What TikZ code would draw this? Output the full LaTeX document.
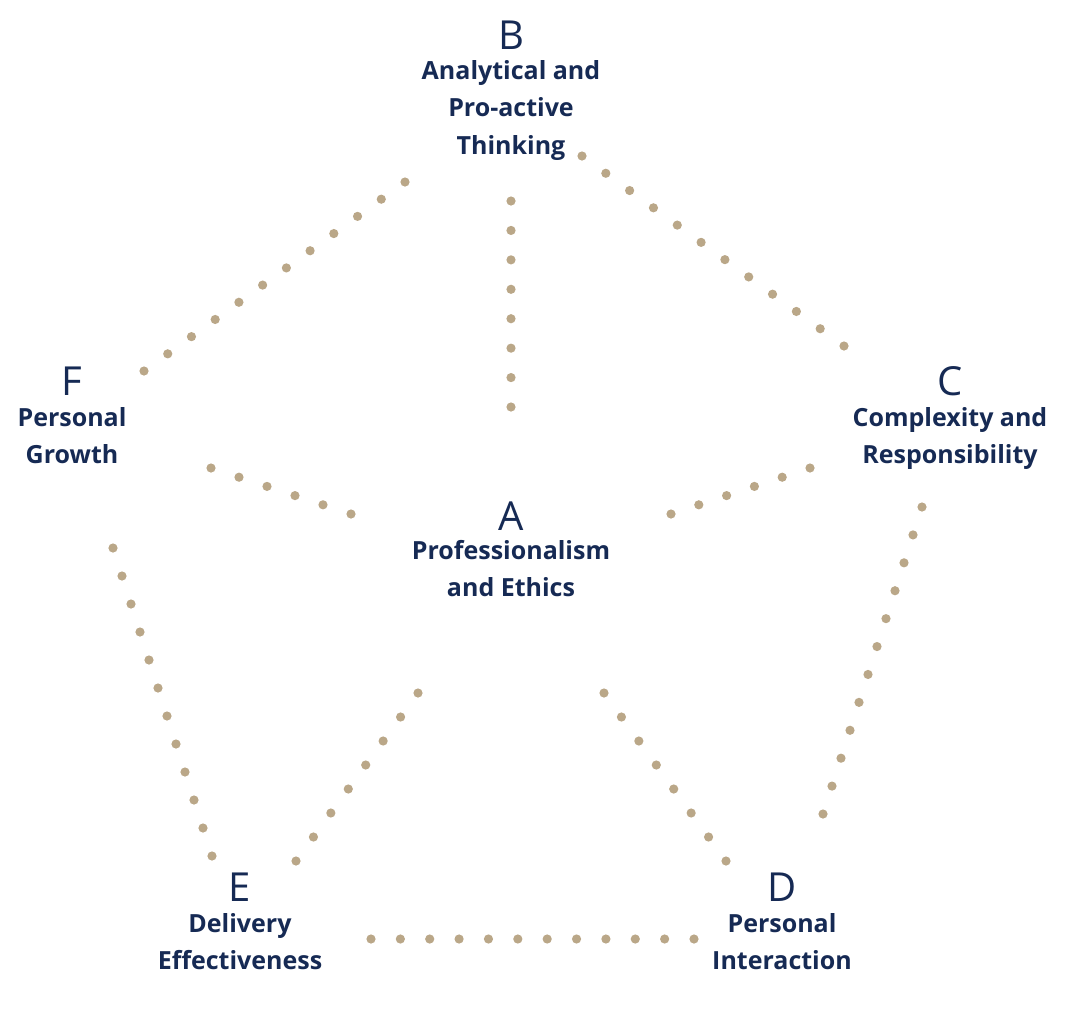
\documentclass[tikz,border=0pt]{standalone}
\usepackage{fontspec}
\setmainfont{Open Sans}
\usetikzlibrary{calc}
\definecolor{navy}{RGB}{22,42,84}
\definecolor{tan}{RGB}{186,167,136}
\begin{document}
\begin{tikzpicture}[x=1pt,y=-1pt,
  letter/.style={text=navy,font=\fontsize{40}{40}\selectfont,inner sep=0pt},
  lbl/.style={text=navy,font=\bfseries\fontsize{25}{37.5}\selectfont,align=center,inner sep=0pt,anchor=north},
  dotty/.style={fill=tan}]
\useasboundingbox (0,0) rectangle (1065,1013);
\newcommand{\dotline}[3]{\foreach \i in {0,...,#3}{\fill[dotty] ($(#1)!\i/#3!(#2)$) circle (4.6);}}
\node[letter] (Bl) at (511,35) {B};
\node[lbl] (Bt) at (511,60) {Analytical and\\Pro-active\\Thinking};
\node[letter] (Fl) at (72,381) {F};
\node[lbl] (Ft) at (72,407) {Personal\\Growth};
\node[letter] (Cl) at (950,381) {C};
\node[lbl] (Ct) at (950,407) {Complexity and\\Responsibility};
\node[letter] (Al) at (511,516) {A};
\node[lbl] (At) at (511,540) {Professionalism\\and Ethics};
\node[letter] (El) at (240,887) {E};
\node[lbl] (Et) at (240,913) {Delivery\\Effectiveness};
\node[letter] (Dl) at (782,887) {D};
\node[lbl] (Dt) at (782,913) {Personal\\Interaction};
\coordinate (ba1) at (511,201); \coordinate (ba2) at (511,407);
\coordinate (bf1) at (405,182); \coordinate (bf2) at (144,371);
\coordinate (bc1) at (582,156); \coordinate (bc2) at (844,346);
\coordinate (fa1) at (211,468); \coordinate (fa2) at (351,514);
\coordinate (ca1) at (810,468); \coordinate (ca2) at (671,514);
\coordinate (fe1) at (113,548); \coordinate (fe2) at (212,856);
\coordinate (cd1) at (922,507); \coordinate (cd2) at (823,814);
\coordinate (ea1) at (296,861); \coordinate (ea2) at (418,693);
\coordinate (da1) at (726,861); \coordinate (da2) at (604,693);
\coordinate (ed1) at (371,939); \coordinate (ed2) at (694,939);
\dotline{ba1}{ba2}{7}
\dotline{bf1}{bf2}{11}
\dotline{bc1}{bc2}{11}
\dotline{fa1}{fa2}{5}
\dotline{ca1}{ca2}{5}
\dotline{fe1}{fe2}{11}
\dotline{cd1}{cd2}{11}
\dotline{ea1}{ea2}{7}
\dotline{da1}{da2}{7}
\dotline{ed1}{ed2}{11}
\end{tikzpicture}
\end{document}
